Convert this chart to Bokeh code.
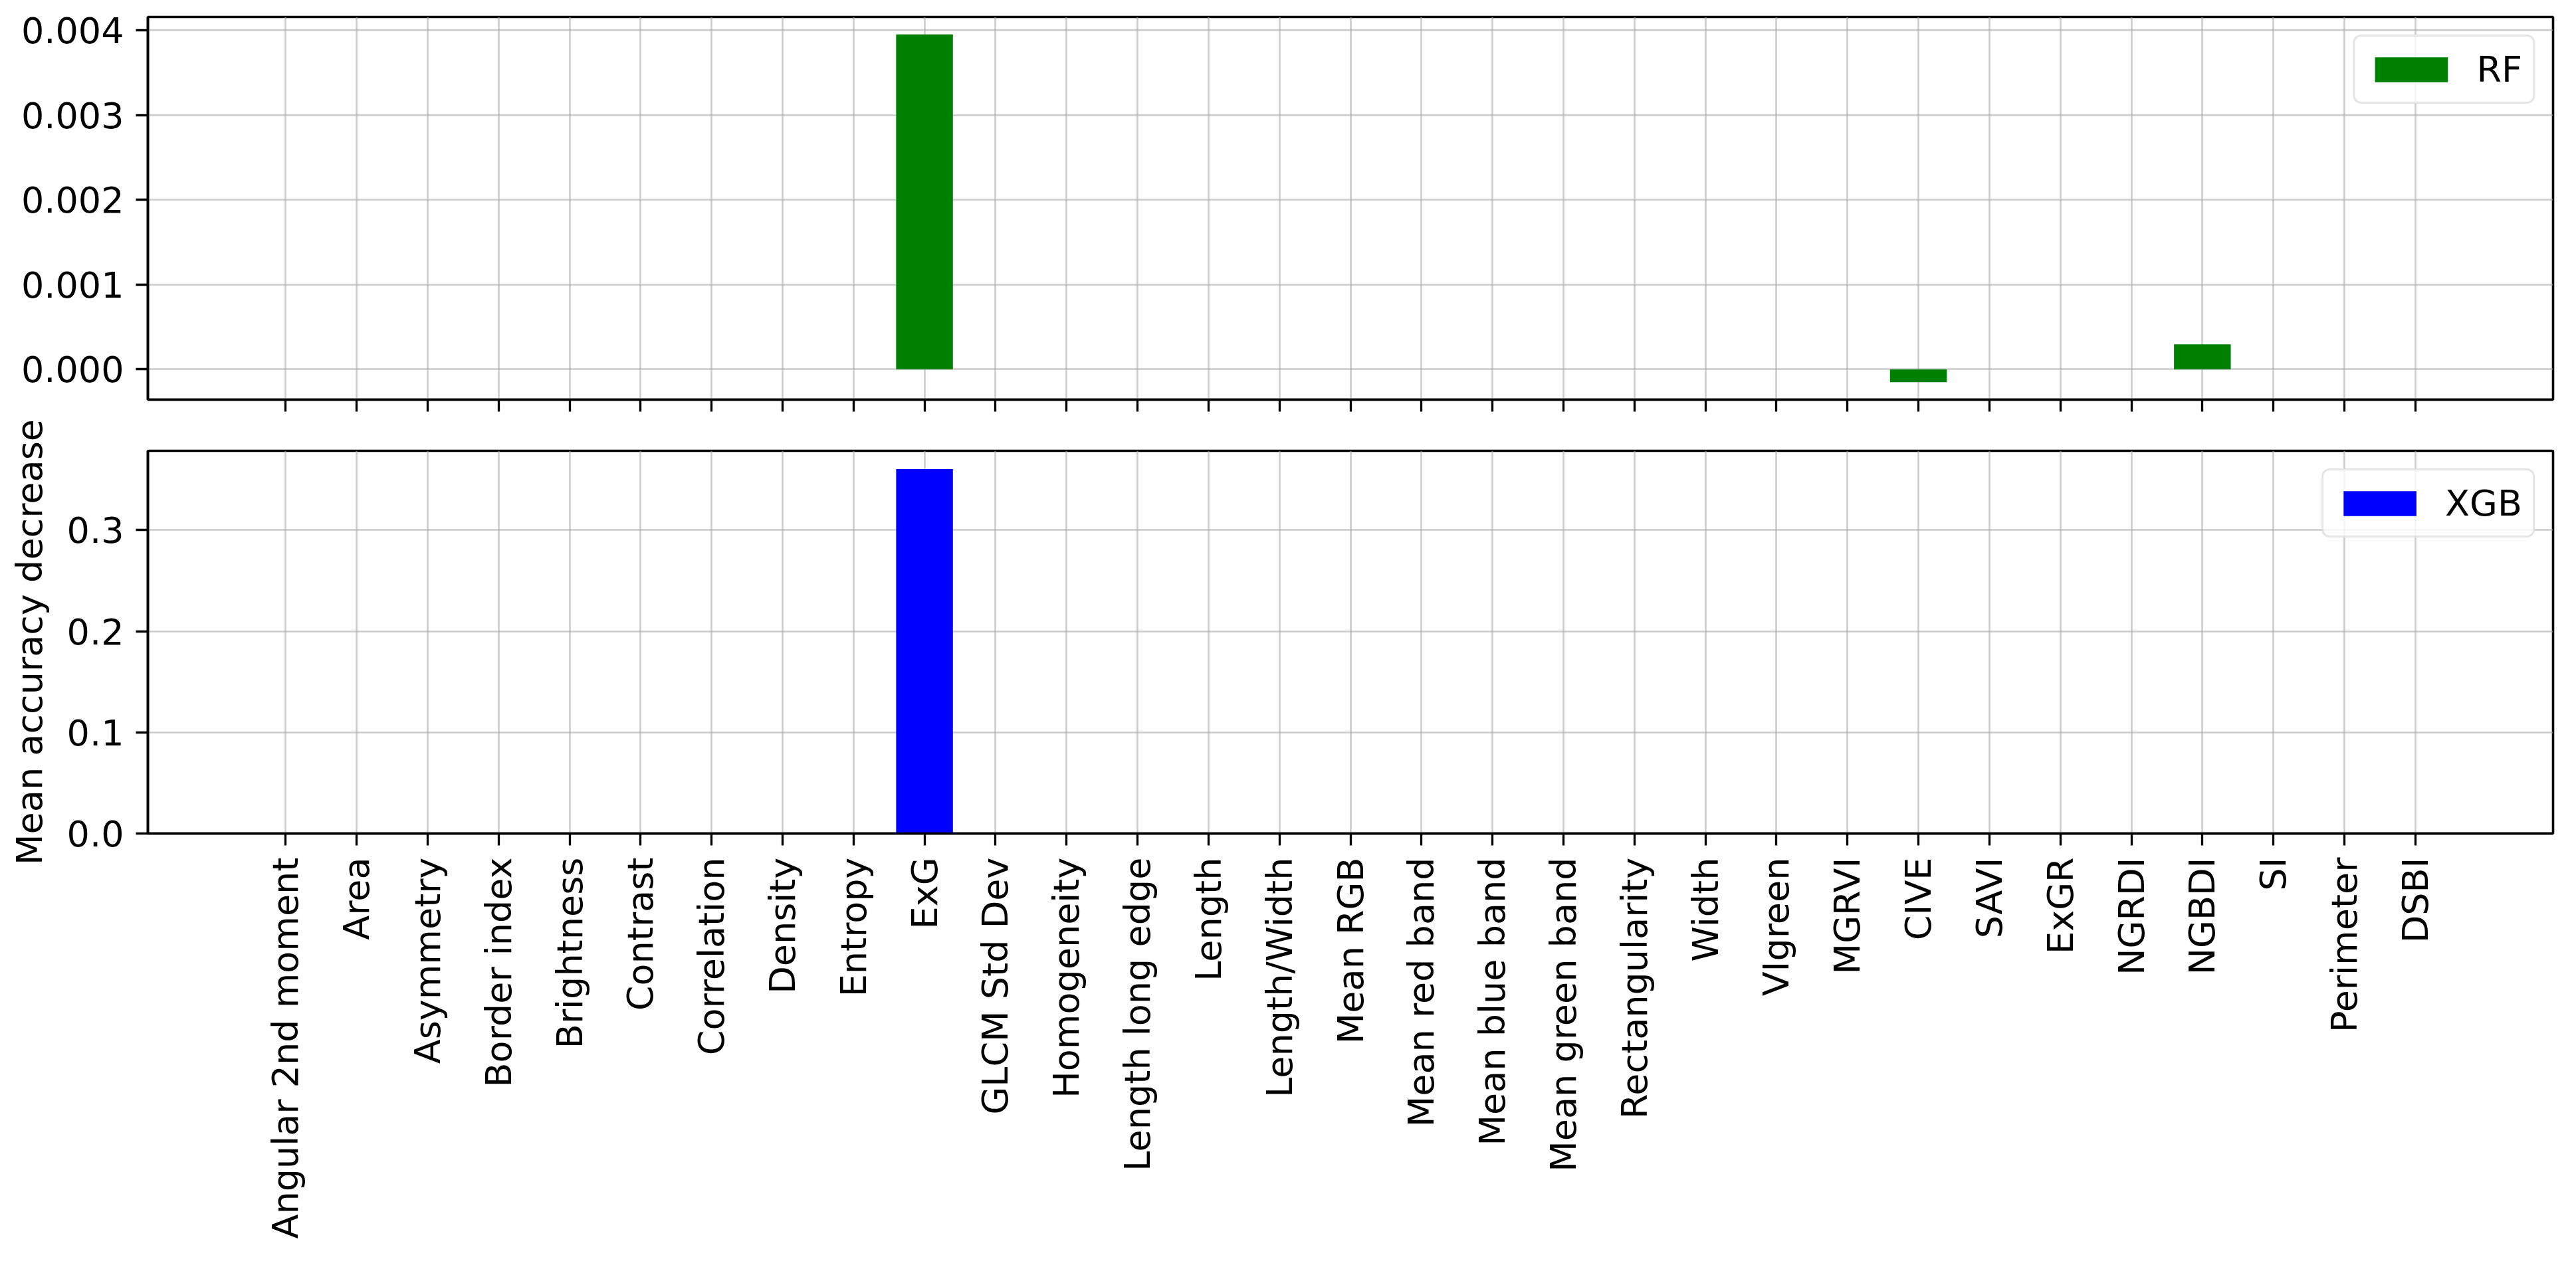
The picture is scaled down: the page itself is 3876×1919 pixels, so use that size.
from bokeh.plotting import figure
from bokeh.layouts import column
from bokeh.models import Range1d, FixedTicker, NumeralTickFormatter
from bokeh.embed import file_html
from bokeh.resources import INLINE
import math

features = ["Angular 2nd moment", "Area", "Asymmetry", "Border index", "Brightness",
            "Contrast", "Correlation", "Density", "Entropy", "ExG", "GLCM Std Dev",
            "Homogeneity", "Length long edge", "Length", "Length/Width", "Mean RGB",
            "Mean red band", "Mean blue band", "Mean green band", "Rectangularity",
            "Width", "VIgreen", "MGRVI", "CIVE", "SAVI", "ExGR", "NGRDI", "NGBDI",
            "SI", "Perimeter", "DSBI"]

rf_values = [0, 0, 0, 0, 0, 0, 0, 0, 0, 0.003955, 0, 0, 0, 0, 0, 0, 0, 0, 0, 0,
             0, 0, 0, -0.000152, 0, 0, 0, 0.000296, 0, 0, 0]
xgb_values = [0, 0, 0, 0, 0, 0, 0, 0, 0, 0.3604, 0, 0, 0, 0, 0, 0, 0, 0, 0, 0,
              0, 0, 0, 0, 0, 0, 0, 0, 0, 0, 0]

rf_ticks = [0.0, 0.001, 0.002, 0.003, 0.004]
xgb_ticks = [0.0, 0.1, 0.2, 0.3]

x = list(range(len(features)))
FONT = "DejaVu Sans"
FS = "54px"


def make_fig(values, color, label, yr, yticks, yfmt, show_labels, bottom_border, top_border, ylabel=None):
    p = figure(frame_width=3619, frame_height=576,
               x_range=Range1d(-1.94, len(features) - 1 + 1.94), y_range=yr,
               output_backend="svg", toolbar_location=None,
               min_border_left=222, min_border_right=12,
               min_border_top=top_border, min_border_bottom=bottom_border,
               background_fill_color="white", border_fill_color="white")
    p.vbar(x=x, top=values, width=0.8, bottom=0, fill_color=color, line_color=None,
           legend_label=label)
    # axes
    for ax in (p.xaxis[0], p.yaxis[0]):
        ax.axis_line_color = "black"
        ax.axis_line_width = 3.6
        ax.major_tick_line_color = "black"
        ax.major_tick_line_width = 3.3
        ax.major_tick_in = 0
        ax.major_tick_out = 18
        ax.minor_tick_line_color = None
        ax.major_label_text_font = FONT
        ax.major_label_text_font_size = FS
        ax.major_label_text_color = "black"
        ax.major_label_standoff = 18
    p.xaxis.ticker = FixedTicker(ticks=x)
    if show_labels:
        p.xaxis.major_label_overrides = {i: f for i, f in enumerate(features)}
        p.xaxis.major_label_orientation = math.pi / 2
    else:
        p.xaxis.major_label_overrides = {i: "" for i in x}
        p.xaxis.major_label_text_font_size = "0px"
        p.xaxis.major_label_standoff = 0
    p.yaxis.ticker = FixedTicker(ticks=yticks)
    p.yaxis.formatter = NumeralTickFormatter(format=yfmt)
    if ylabel:
        p.yaxis.axis_label = ylabel
        p.yaxis.axis_label_text_font = FONT
        p.yaxis.axis_label_text_font_size = FS
        p.yaxis.axis_label_text_font_style = "normal"
        p.yaxis.axis_label_text_color = "black"
        p.yaxis.axis_label_standoff = 22
    # grid
    for g in (p.xgrid[0], p.ygrid[0]):
        g.grid_line_color = "#a8a8a8"
        g.grid_line_alpha = 0.6
        g.grid_line_width = 2.5
    p.outline_line_color = "black"
    p.outline_line_width = 3.6
    p.outline_line_alpha = 1.0
    # legend
    lg = p.legend[0]
    lg.location = "top_right"
    lg.margin = 27
    lg.padding = 16
    lg.spacing = 0
    lg.glyph_width = 137
    lg.glyph_height = 47
    lg.label_standoff = 30
    lg.label_text_font = FONT
    lg.label_text_font_size = FS
    lg.label_text_color = "black"
    lg.label_height = 66
    lg.border_line_color = "#cccccc"
    lg.border_line_width = 3
    lg.border_radius = 12
    lg.background_fill_color = "white"
    lg.background_fill_alpha = 0.8
    return p


p_top = make_fig(rf_values, "#008000", "RF", Range1d(-0.000357, 0.00416), rf_ticks,
                 "0.000", False, 20, 25)
p_bot = make_fig(xgb_values, "#0000ff", "XGB", Range1d(0, 0.3784), xgb_ticks,
                 "0.0", True, 620, 57, ylabel="Mean accuracy decrease")

layout = column(p_top, p_bot)
open("out.html", "w").write(file_html(layout, INLINE))
